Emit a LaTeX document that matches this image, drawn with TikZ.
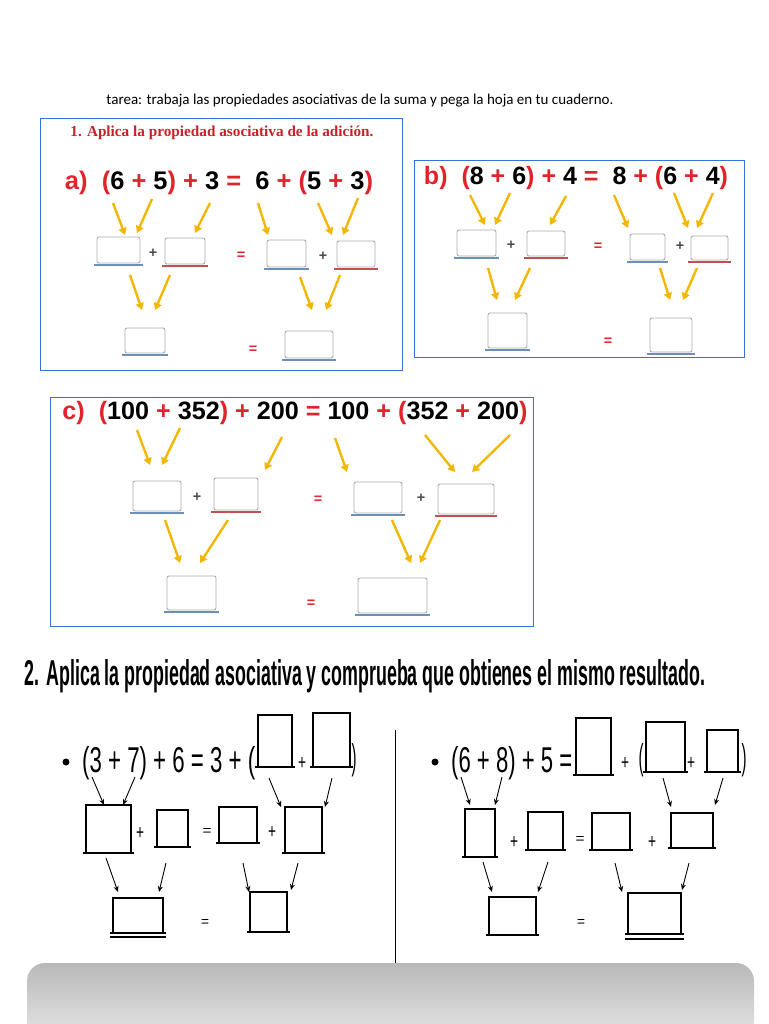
\documentclass[tikz,border=0pt]{standalone}
\usepackage{fontspec}
\setmainfont{Liberation Sans}
\newfontfamily\carfont{Carlito}
\newfontfamily\serfont{Liberation Serif}
\usetikzlibrary{arrows.meta}
\definecolor{yel}{HTML}{F2B705}
\definecolor{bl}{HTML}{3A6FD8}
\definecolor{rd}{HTML}{E0242B}
\definecolor{ul}{HTML}{6A8FB8}
\definecolor{ur}{HTML}{C25050}
\tikzset{
 frame/.style={draw=bl,line width=0.9pt},
 yar/.style={draw=yel,line width=2.4pt,-{Triangle[length=7pt,width=8pt]}},
 kar/.style={draw=black,line width=0.9pt,-{Stealth[length=6pt,width=5pt]}},
 sbox/.style={draw=gray!65,line width=0.9pt,rounded corners=2pt,fill=white},
 eq/.style={inner sep=0pt,font=\bfseries},
 k/.style={inner sep=0pt},
}
\newcommand{\bx}[5]{\draw[line width=1.2pt,#5] (#1-3,#4+2) -- (#3+3,#4+2); \draw[sbox] (#1,#2) rectangle (#3,#4);}
\newcommand{\kb}[4]{\draw[line width=1.1pt] (#1,#4) -- (#1,#2) -- (#3,#2) -- (#3,#4); \draw[line width=2.6pt] (#1-3,#4) -- (#3+3,#4);}
\newcommand{\R}[1]{\textcolor{rd}{#1}}
\begin{document}
\begin{tikzpicture}[x=1pt,y=-1pt]
\useasboundingbox (0,0) rectangle (768,1024);
\node[k] (hdr) at (360,101) {\resizebox{507pt}{!}{\carfont\fontsize{13}{15}\selectfont tarea: trabaja las propiedades asociativas de la suma y pega la hoja en tu cuaderno.}};
% ---- a
\draw[frame] (40,118) rectangle (402,370);
\node[k] (t1) at (222,133) {\resizebox{303pt}{!}{\serfont\bfseries\color{rd!90!black}1. Aplica la propiedad asociativa de la adición.}};
\node[eq] (ra) at (219,183) {\resizebox{308pt}{!}{\R{a)}\ \ \R{(}6 \R{+} 5\R{)} \R{+} 3 \R{=} \ 6 \R{+} \R{(}5 \R{+} 3\R{)}}};
\draw[yar] (113,203) -- (125,235); \draw[yar] (152,199) -- (137,233); \draw[yar] (210,203) -- (195,233);
\draw[yar] (258,203) -- (268,235); \draw[yar] (318,203) -- (332,235); \draw[yar] (358,198) -- (343,235);
\bx{97}{237}{140}{263}{ul} \bx{165}{238}{205}{264}{ur} \bx{267}{240}{306}{267}{ul} \bx{337}{241}{375}{267}{ur}
\node[eq,text=black!70] at (153,253) {\Large +}; \node[eq,text=rd] at (241,256) {\Large =}; \node[eq,text=black!70] at (323,256) {\Large +};
\draw[yar] (130,275) -- (142,310); \draw[yar] (170,275) -- (155,310); \draw[yar] (300,277) -- (312,310); \draw[yar] (340,275) -- (326,310);
\bx{125}{328}{165}{353}{ul} \bx{285}{331}{333}{358}{ul}
\node[eq,text=rd] at (253,350) {\Large =};
% ---- b
\draw[frame] (414,160) rectangle (744,357);
\node[eq] (rb) at (576,178) {\resizebox{304pt}{!}{\R{b)}\ \ \R{(}8 \R{+} 6\R{)} \R{+} 4 \R{=} \ 8 \R{+} \R{(}6 \R{+} 4\R{)}}};
\draw[yar] (470,195) -- (485,225); \draw[yar] (510,193) -- (495,225); \draw[yar] (566,196) -- (550,225);
\draw[yar] (614,195) -- (628,228); \draw[yar] (674,193) -- (688,228); \draw[yar] (713,193) -- (697,228);
\bx{457}{230}{496}{256}{ul} \bx{527}{231}{565}{256}{ur} \bx{630}{234}{665}{260}{ul} \bx{691}{236}{728}{260}{ur}
\node[eq,text=black!70] at (511,245) {\Large +}; \node[eq,text=rd] at (598,247) {\Large =}; \node[eq,text=black!70] at (680,246) {\Large +};
\draw[yar] (488,268) -- (497,300); \draw[yar] (530,268) -- (515,300); \draw[yar] (660,268) -- (670,300); \draw[yar] (697,268) -- (683,300);
\bx{488}{313}{527}{348}{ul} \bx{650}{318}{692}{352}{ul}
\node[eq,text=rd] at (608,342) {\Large =};
% ---- c
\draw[frame] (50,397) rectangle (533,626);
\node[eq] (rc) at (295,413) {\resizebox{465pt}{!}{\R{c)}\ \ \R{(}100 \R{+} 352\R{)} \R{+} 200 \R{=} 100 \R{+} \R{(}352 \R{+} 200\R{)}}};
\draw[yar] (137,430) -- (150,465); \draw[yar] (180,428) -- (162,465); \draw[yar] (282,437) -- (265,470);
\draw[yar] (335,438) -- (347,472); \draw[yar] (425,435) -- (455,472); \draw[yar] (510,435) -- (472,472);
\bx{133}{481}{181}{511}{ul} \bx{214}{478}{258}{510}{ur} \bx{354}{482}{402}{513}{ul} \bx{438}{484}{494}{514}{ur}
\node[eq,text=black!70] at (197,497) {\Large +}; \node[eq,text=rd] at (318,500) {\Large =}; \node[eq,text=black!70] at (421,498) {\Large +};
\draw[yar] (165,520) -- (180,563); \draw[yar] (228,520) -- (200,563); \draw[yar] (392,520) -- (411,563); \draw[yar] (440,520) -- (420,563);
\bx{167}{576}{216}{610}{ul} \bx{358}{578}{427}{613}{ul}
\node[eq,text=rd] at (311,604) {\Large =};
% ---- 2
\node[k] (t2) at (365,676) {\resizebox{680pt}{26pt}{\bfseries 2. Aplica la propiedad asociativa y comprueba que obtienes el mismo resultado.}};
\shade[top color=gray!55,bottom color=gray!10,rounded corners=18pt] (27,963) rectangle (754,1060);
\draw[line width=1pt] (395.6,730) -- (395.6,963);
% left
\fill (66,762) circle (3.5);
\node[k,anchor=west] (le) at (82,763) {\resizebox{173pt}{26pt}{(3 + 7) + 6 = 3 + (}};
\kb{258}{715}{292}{767} \kb{313}{713}{350}{767}
\node[k] at (302,763) {\resizebox{8pt}{12pt}{+}}; \node[k] at (354,760) {\resizebox{5pt}{26pt}{)}};
\draw[kar] (92,777) -- (104,805); \draw[kar] (135,777) -- (123,805); \draw[kar] (269,778) -- (281,807); \draw[kar] (332,778) -- (325,807);
\kb{86}{805}{131}{853} \kb{157}{810}{188}{847} \kb{219}{807}{257}{843} \kb{285}{807}{322}{853}
\node[k] at (140,833) {\resizebox{8pt}{12pt}{+}}; \node[k] at (207,832) {\resizebox{9pt}{7pt}{=}}; \node[k] at (272,832) {\resizebox{8pt}{12pt}{+}};
\draw[kar] (106,858) -- (118,892); \draw[kar] (166,863) -- (159,892); \draw[kar] (243,863) -- (249,892); \draw[kar] (298,863) -- (291,890);
\kb{113}{898}{163}{933} \kb{250}{892}{287}{932}
\draw[line width=1.5pt] (110,937) -- (166,937);
\node[k] at (205,923) {\resizebox{8pt}{7pt}{=}};
% right
\fill (435,762) circle (3.5);
\node[k,anchor=west] (ri) at (451,763) {\resizebox{121pt}{26pt}{(6 + 8) + 5 =}};
\kb{576}{718}{611}{775} \kb{646}{722}{685}{772} \kb{707}{730}{738}{772}
\node[k] at (625,763) {\resizebox{8pt}{12pt}{+}}; \node[k] at (641,760) {\resizebox{5pt}{26pt}{(}};
\node[k] at (691,763) {\resizebox{8pt}{12pt}{+}}; \node[k] at (744,760) {\resizebox{5pt}{26pt}{)}};
\draw[kar] (461,777) -- (470,805); \draw[kar] (502,777) -- (495,805); \draw[kar] (663,778) -- (671,807); \draw[kar] (723,778) -- (715,805);
\kb{465}{809}{495}{857} \kb{528}{812}{563}{850} \kb{592}{813}{630}{850} \kb{671}{813}{713}{848}
\node[k] at (514,842) {\resizebox{8pt}{12pt}{+}}; \node[k] at (580,840) {\resizebox{9pt}{7pt}{=}}; \node[k] at (652,842) {\resizebox{8pt}{12pt}{+}};
\draw[kar] (483,862) -- (492,892); \draw[kar] (548,862) -- (538,892); \draw[kar] (615,863) -- (622,892); \draw[kar] (689,863) -- (682,890);
\kb{489}{897}{536}{935} \kb{628}{893}{681}{934}
\draw[line width=1.5pt] (625,939) -- (684,939);
\node[k] at (581,923) {\resizebox{8pt}{7pt}{=}};
\end{tikzpicture}
\end{document}
